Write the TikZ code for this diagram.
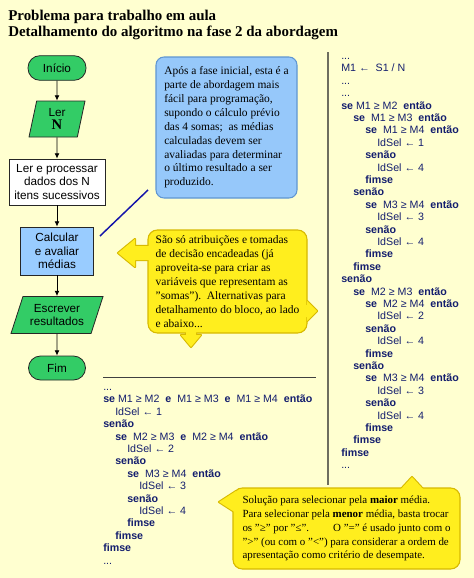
\documentclass[tikz,border=0pt]{standalone}
\usepackage{fontspec}
\setmainfont{Liberation Serif}
\setsansfont{Liberation Sans}
\usepackage{tikz}
\usetikzlibrary{arrows.meta,backgrounds,shapes.geometric}
\definecolor{pagebg}{RGB}{255,255,208}
\definecolor{termfill}{RGB}{51,204,102}
\definecolor{calcfill}{RGB}{153,204,255}
\definecolor{notefill}{RGB}{150,200,250}
\definecolor{notedraw}{RGB}{95,150,210}
\definecolor{hintfill}{RGB}{255,238,30}
\definecolor{hintdraw}{RGB}{215,185,0}
\definecolor{codeblue}{RGB}{20,30,110}
\definecolor{rulegray}{RGB}{110,110,95}
\definecolor{linkblue}{RGB}{20,20,170}
\newcommand{\kw}[1]{\textbf{#1}}
\newcommand{\ind}[1]{\hspace*{#1\dimexpr 9pt\relax}}
\tikzset{
  fbox/.style={
    draw=black!85,
    line width=0.6pt,
    align=center,
    inner sep=2pt,
    font=\sffamily\fontsize{8.8}{10}\selectfont
  },
  term/.style={fbox, fill=termfill, rounded corners=9pt, minimum height=18.5pt},
  io/.style={fbox, fill=termfill, trapezium, trapezium stretches body},
  proc/.style={fbox, rectangle},
  flow/.style={-{Latex[length=4pt,width=3.6pt]}, line width=0.6pt},
  note/.style={align=left, inner xsep=4pt, inner ysep=3pt,
    font=\fontsize{8.6}{10.4}\selectfont},
  hint/.style={note, fill=hintfill, draw=hintdraw, line width=0.8pt,
    rounded corners=7pt},
  hintedge/.style={fill=hintfill, draw=hintdraw, line width=1.6pt,
    line join=round},
  code/.style={align=left, inner sep=0pt, text=codeblue,
    font=\sffamily\fontsize{8}{9.3}\selectfont},
  title/.style={align=left, inner sep=0pt,
    font=\bfseries\fontsize{11.2}{12}\selectfont},
  sep/.style={draw=rulegray, line width=1.1pt},
  hrule/.style={draw=black!75, line width=0.7pt},
  link/.style={draw=linkblue, line width=1.1pt}
}

\begin{document}
\begin{tikzpicture}[x=0.75pt, y=-0.75pt]
  \begin{scope}[on background layer]
    \fill[pagebg] (0,0) rectangle (474,578);
  \end{scope}
  \useasboundingbox (0,0) rectangle (474,578);

  \node[title, anchor=north west] (titulo) at (8,10)
    {Problema para trabalho em aula\\
     Detalhamento do algoritmo na fase 2 da abordagem};

  % fluxograma
  \node[term, minimum width=43.5pt] (inicio) at (57,68) {Início};
  \node[io, trapezium left angle=74, trapezium right angle=106,
    minimum width=42pt, minimum height=27pt] (lern) at (57,119)
    {Ler\\{\rmfamily\bfseries\fontsize{11}{11}\selectfont N}};
  \node[proc, fill=white, minimum width=72pt, minimum height=34.5pt]
    (lerproc) at (57,182) {Ler e processar\\dados dos N\\itens sucessivos};
  \node[proc, fill=calcfill, minimum width=54.75pt, minimum height=36pt]
    (calc) at (57,251) {Calcular\\e avaliar\\médias};
  \node[io, trapezium left angle=66, trapezium right angle=114,
    minimum width=69pt, minimum height=27.75pt] (escrever) at (57,315)
    {Escrever\\resultados};
  \node[term, minimum width=42.75pt, minimum height=18pt] (fim) at (57,368)
    {Fim};

  \draw[flow] (inicio) -- (lern);
  \draw[flow] (lern) -- (lerproc);
  \draw[flow] (lerproc) -- (calc);
  \draw[flow] (calc) -- (escrever);
  \draw[flow] (escrever) -- (fim);

  % nota azul
  \node[note, fill=notefill, draw=notedraw, line width=0.8pt,
    rounded corners=6pt, minimum width=105.75pt, minimum height=105.75pt]
    (nota) at (226.5,127.5)
    {Após a fase inicial, esta é a\\
     parte de abordagem mais\\
     fácil para programação,\\
     supondo o cálculo prévio\\
     das 4 somas;~~as médias\\
     calculadas devem ser\\
     avaliadas para determinar\\
     o último resultado a ser\\
     produzido.};
  \coordinate (ligA) at (100,236);
  \coordinate (ligB) at (148,190);
  \draw[link] (ligA) -- (ligB);

  % separadores
  \draw[sep] (328,52) -- (328,485);
  \draw[hrule] (103,377) -- (316,377);

  % algoritmo aninhado
  \node[code, anchor=north west] (algo) at (341,58)
    {...\\
     M1 ←~~S1 / N\\
     ...\\
     ...\\
     \kw{se} M1 ≥ M2~~\kw{então}\\
     \ind{1}\kw{se}~~M1 ≥ M3~~\kw{então}\\
     \ind{2}\kw{se}~~M1 ≥ M4~~\kw{então}\\
     \ind{3}IdSel ← 1\\
     \ind{2}\kw{senão}\\
     \ind{3}IdSel ← 4\\
     \ind{2}\kw{fimse}\\
     \ind{1}\kw{senão}\\
     \ind{2}\kw{se}~~M3 ≥ M4~~\kw{então}\\
     \ind{3}IdSel ← 3\\
     \ind{2}\kw{senão}\\
     \ind{3}IdSel ← 4\\
     \ind{2}\kw{fimse}\\
     \ind{1}\kw{fimse}\\
     \kw{senão}\\
     \ind{1}\kw{se}~~M2 ≥ M3~~\kw{então}\\
     \ind{2}\kw{se}~~M2 ≥ M4~~\kw{então}\\
     \ind{3}IdSel ← 2\\
     \ind{2}\kw{senão}\\
     \ind{3}IdSel ← 4\\
     \ind{2}\kw{fimse}\\
     \ind{1}\kw{senão}\\
     \ind{2}\kw{se}~~M3 ≥ M4~~\kw{então}\\
     \ind{3}IdSel ← 3\\
     \ind{2}\kw{senão}\\
     \ind{3}IdSel ← 4\\
     \ind{2}\kw{fimse}\\
     \ind{1}\kw{fimse}\\
     \kw{fimse}\\
     ...};

  % algoritmo com condicoes compostas
  \node[code, anchor=north west] (algoalt) at (103,389)
    {...\\
     \kw{se} M1 ≥ M2~~\kw{e}~~M1 ≥ M3~~\kw{e}~~M1 ≥ M4~~\kw{então}\\
     \ind{1}IdSel ← 1\\
     \kw{senão}\\
     \ind{1}\kw{se}~~M2 ≥ M3~~\kw{e}~~M2 ≥ M4~~\kw{então}\\
     \ind{2}IdSel ← 2\\
     \ind{1}\kw{senão}\\
     \ind{2}\kw{se}~~M3 ≥ M4~~\kw{então}\\
     \ind{3}IdSel ← 3\\
     \ind{2}\kw{senão}\\
     \ind{3}IdSel ← 4\\
     \ind{2}\kw{fimse}\\
     \ind{1}\kw{fimse}\\
     \kw{fimse}\\
     ...};

  % balões amarelos
  \node[hint, minimum width=119.25pt, minimum height=77.25pt]
    (dica) at (227.5,281.5)
    {São só atribuições e tomadas\\
     de decisão encadeadas (já\\
     aproveita-se para criar as\\
     variáveis que representam as\\
     "somas").~~Alternativas para\\
     detalhamento do bloco, ao lado\\
     e abaixo...};
  \node[hint, minimum width=170.25pt, minimum height=60.75pt,
    font=\fontsize{8.2}{10.4}\selectfont] (solucao) at (346.5,528.5)
    {Solução para selecionar pela \textbf{maior} média.\\
     Para selecionar pela \textbf{menor} média, basta trocar\\
     os "≥" por "≤".\hspace{2.2em}O "=" é usado junto com o\\
     ">" (ou com o "<") para considerar a ordem de\\
     apresentação como critério de desempate.};

  \begin{scope}[on background layer]
    \filldraw[hintedge] (152,246) -- (135,246) -- (135,239) -- (118,253)
      -- (135,267) -- (135,260) -- (152,260) -- cycle;
    \filldraw[hintedge] (300,305) -- (307,305) -- (307,301) -- (317,311)
      -- (307,321) -- (307,317) -- (300,317) -- cycle;
    \filldraw[hintedge] (186,328) -- (186,335) -- (181,335) -- (191,347)
      -- (201,335) -- (196,335) -- (196,328) -- cycle;
    \filldraw[hintedge] (240,497) -- (236,497) -- (236,491) -- (219,502)
      -- (236,513) -- (236,507) -- (240,507) -- cycle;
    \filldraw[hintedge] (406,494) -- (406,490) -- (400,490) -- (412,477)
      -- (424,490) -- (418,490) -- (418,494) -- cycle;
  \end{scope}
  \fill[hintfill] (152,246) -- (135,246) -- (135,239) -- (118,253)
    -- (135,267) -- (135,260) -- (152,260) -- cycle;
  \fill[hintfill] (300,305) -- (307,305) -- (307,301) -- (317,311)
    -- (307,321) -- (307,317) -- (300,317) -- cycle;
  \fill[hintfill] (186,328) -- (186,335) -- (181,335) -- (191,347)
    -- (201,335) -- (196,335) -- (196,328) -- cycle;
  \fill[hintfill] (240,497) -- (236,497) -- (236,491) -- (219,502)
    -- (236,513) -- (236,507) -- (240,507) -- cycle;
  \fill[hintfill] (406,494) -- (406,490) -- (400,490) -- (412,477)
    -- (424,490) -- (418,490) -- (418,494) -- cycle;
\end{tikzpicture}
\end{document}
